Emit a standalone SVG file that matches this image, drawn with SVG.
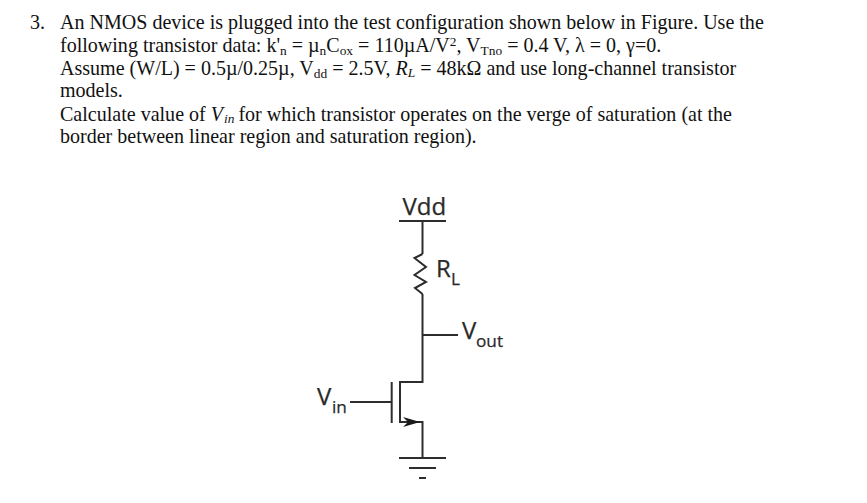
<svg xmlns="http://www.w3.org/2000/svg" width="867" height="503" viewBox="0 0 867 503">
<style>
.t{font-family:"Liberation Serif","Times New Roman",serif;font-size:20.05px;fill:#111}
.s{font-size:13.4px}
.i{font-style:italic}
.c{font-family:"Open Sans","Noto Sans",sans-serif;font-size:24px;fill:#2a2a2a;stroke:#2a2a2a;stroke-width:.25}
.b{font-size:17.2px}
.w{fill:none;stroke:#2d2d2d;stroke-width:2}
</style>
<rect width="867" height="503" fill="#fff"/>
<g id="problem-text">
<text class="t" x="30" y="29">3.</text>
<text class="t" x="60" y="29">An NMOS device is plugged into the test configuration shown below in Figure. Use the</text>
<text class="t" x="60" y="51.500">following transistor data: k'<tspan class="s" dy="3">n</tspan><tspan dy="-3"> = µ</tspan><tspan class="s" dy="3">n</tspan><tspan dy="-3">C</tspan><tspan class="s" dy="3">ox</tspan><tspan dy="-3"> = 110µA/V</tspan><tspan class="s" dy="-6">2</tspan><tspan dy="6">, V</tspan><tspan class="s" dy="3">Tno</tspan><tspan dy="-3"> = 0.4 V, λ = 0, γ=0.</tspan></text>
<text class="t" x="60" y="75">Assume (W/L) = 0.5µ/0.25µ, V<tspan class="s" dy="3">dd</tspan><tspan dy="-3"> = 2.5V, </tspan><tspan class="i">R</tspan><tspan class="s i" dy="2">L</tspan><tspan dy="-2"> = 48kΩ and use long-channel transistor</tspan></text>
<text class="t" x="60" y="97">models.</text>
<text class="t" x="60" y="121">Calculate value of <tspan class="i">V</tspan><tspan class="s i" dx="1" dy="2">in</tspan><tspan dx="-1" dy="-2"> for which transistor operates on the verge of saturation (at the</tspan></text>
<text class="t" x="60" y="143">border between linear region and saturation region).</text>
</g>
<defs><marker id="arrow" markerUnits="userSpaceOnUse" markerWidth="18" markerHeight="12" refX="17" refY="6" orient="auto"><path d="M0 1L17 6L0 11L5 6Z" fill="#1a1a1a"/></marker></defs>
<g id="connectors">
<path class="w" d="M422.5 221V254"/>
<path class="w" d="M422.5 294V382H400"/>
<path class="w" d="M422.5 335H458"/>
<path class="w" d="M350 402H391"/>
<path class="w" d="M400 422H422.5V458"/>
<path class="w" d="M403 422H420" marker-end="url(#arrow)"/>
</g>
<g id="vdd"><path class="w" d="M399 221H446"/><text class="c" x="402.500" y="215">Vdd</text></g>
<g id="rl"><path class="w" d="M422.5 254L414.500 258L426 267L414.500 275L426 282L415 288L422.5 294"/><text class="c" x="436" y="277">R</text><text class="c b" x="451" y="285">L</text></g>
<g id="vout"><text class="c" x="462" y="339">V</text><text class="c b" x="476" y="347">out</text></g>
<g id="vin"><text class="c" x="317" y="405">V</text><text class="c b" x="332" y="413">in</text></g>
<g id="nmos"><path class="w" d="M391.7 382V423"/><path class="w" d="M400 381V423"/></g>
<g id="ground"><path class="w" d="M399 458H446"/><path class="w" d="M409 468H436"/><path class="w" d="M419 478H426"/></g>
</svg>
